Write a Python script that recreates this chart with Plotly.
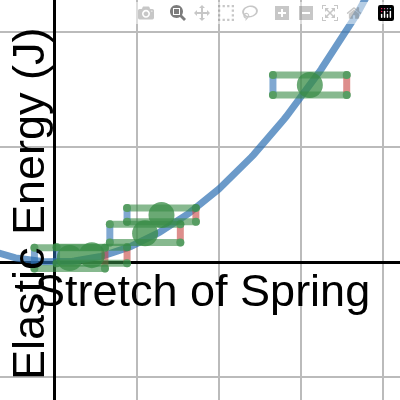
import numpy as np
import plotly.graph_objects as go

stretch = [0.18, 0.45, 1.10, 1.30, 3.11]
energy = [0.035, 0.06, 0.25, 0.41, 1.54]
x_err = [0.43, 0.43, 0.43, 0.42, 0.45]
y_err = [0.09, 0.07, 0.08, 0.06, 0.087]
fit_k = 0.159

fig = go.Figure()

xs = np.linspace(-0.8, 4.5, 200)
fig.add_trace(go.Scatter(x=xs, y=fit_k * xs**2, mode="lines",
                         line=dict(color="#2d70b3", width=7), opacity=0.7))

# error boxes: green top/bottom, blue left, red right
for x, y, ex, ey in zip(stretch, energy, x_err, y_err):
    for xx, yy, c in [([x - ex, x + ex], [y + ey, y + ey], "#388c46"),
                      ([x - ex, x + ex], [y - ey, y - ey], "#388c46"),
                      ([x - ex, x - ex], [y - ey, y + ey], "#2d70b3"),
                      ([x + ex, x + ex], [y - ey, y + ey], "#c74440")]:
        fig.add_trace(go.Scatter(x=xx, y=yy, mode="lines+markers",
                                 line=dict(color=c, width=7),
                                 marker=dict(color="#388c46", size=8),
                                 opacity=0.6))

fig.add_trace(go.Scatter(x=stretch, y=energy, mode="markers",
                         marker=dict(color="#388c46", size=26), opacity=0.75))

fig.update_layout(
    width=400, height=400, margin=dict(l=0, r=0, t=0, b=0),
    plot_bgcolor="white", paper_bgcolor="white", showlegend=False,
    xaxis=dict(range=[-0.67, 4.21], dtick=1, showticklabels=False,
               gridcolor="#bbbbbb", gridwidth=1.5,
               zeroline=True, zerolinecolor="black", zerolinewidth=3),
    yaxis=dict(range=[-1.2, 2.28], dtick=1, showticklabels=False,
               gridcolor="#bbbbbb", gridwidth=1.5,
               zeroline=True, zerolinecolor="black", zerolinewidth=3),
    annotations=[
        dict(text="Stretch of Spring", xref="paper", yref="paper", x=0.505, y=0.275,
             xanchor="center", yanchor="middle", showarrow=False,
             font=dict(family="Liberation Sans", size=45, color="black")),
        dict(text="Elastic Energy (J)", xref="paper", yref="paper", x=0.07, y=0.49,
             xanchor="center", yanchor="middle", textangle=-90, showarrow=False,
             font=dict(family="Liberation Sans", size=45, color="black")),
    ],
)

fig.write_html("out.html", post_script="document.body.style.margin='0';")
